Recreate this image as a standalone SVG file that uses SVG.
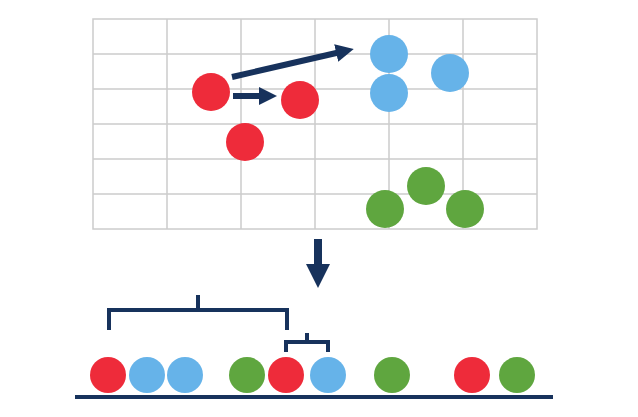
<svg xmlns="http://www.w3.org/2000/svg" width="638" height="417" viewBox="0 0 638 417">
<style>
.g{stroke:#cccccc;stroke-width:1.5;fill:none}
.r{fill:#ee2b3a}.b{fill:#66b3e9}.gr{fill:#5fa63f}
.n{stroke:#17325c;fill:none;stroke-width:4}
</style>
<defs>
<marker id="ah" viewBox="0 0 10 10" refX="5" refY="5" markerWidth="3" markerHeight="3" orient="auto" markerUnits="strokeWidth"><path d="M0,0 L10,5 L0,10 z" fill="#17325c"/></marker>
</defs>
<rect width="638" height="417" fill="#fff"/>
<g id="grid">
<rect x="93" y="19" width="444" height="210" class="g"/>
<path class="g" d="M167,19V229M241,19V229M315,19V229M389,19V229M463,19V229M93,54H537M93,89H537M93,124H537M93,159H537M93,194H537"/>
</g>
<g id="connectors">
<line x1="232" y1="77" x2="345" y2="51" stroke="#17325c" stroke-width="6" marker-end="url(#ah)"/>
<line x1="233" y1="96" x2="268" y2="96" stroke="#17325c" stroke-width="6" marker-end="url(#ah)"/>
<line x1="318" y1="239" x2="318" y2="276" stroke="#17325c" stroke-width="8" marker-end="url(#ah)"/>
<path class="n" d="M109,330V310H287V330M198,310V295"/>
<path class="n" d="M286,352V342H328V352M307,342V333"/>
<line x1="75" y1="397" x2="553" y2="397" stroke="#17325c" stroke-width="4"/>
</g>
<g id="scatter">
<circle class="r" cx="211" cy="92" r="19"/>
<circle class="r" cx="300" cy="100" r="19"/>
<circle class="r" cx="245" cy="142" r="19"/>
<circle class="b" cx="389" cy="54" r="19"/>
<circle class="b" cx="389" cy="93" r="19"/>
<circle class="b" cx="450" cy="73" r="19"/>
<circle class="gr" cx="426" cy="186" r="19"/>
<circle class="gr" cx="385" cy="209" r="19"/>
<circle class="gr" cx="465" cy="209" r="19"/>
</g>
<g id="row">
<circle class="r" cx="108" cy="375" r="18"/>
<circle class="b" cx="147" cy="375" r="18"/>
<circle class="b" cx="185" cy="375" r="18"/>
<circle class="gr" cx="247" cy="375" r="18"/>
<circle class="r" cx="286" cy="375" r="18"/>
<circle class="b" cx="328" cy="375" r="18"/>
<circle class="gr" cx="392" cy="375" r="18"/>
<circle class="r" cx="472" cy="375" r="18"/>
<circle class="gr" cx="517" cy="375" r="18"/>
</g>
</svg>
